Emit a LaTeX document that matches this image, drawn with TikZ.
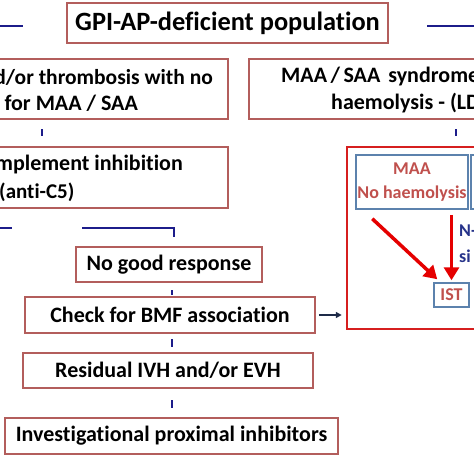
\documentclass[tikz,border=0pt]{standalone}
\usepackage{fontspec}
\setmainfont[Ligatures=NoCommon]{Carlito}
\usetikzlibrary{arrows.meta}
\definecolor{boxred}{HTML}{B35E5C}
\definecolor{navyline}{HTML}{1C1C8A}
\definecolor{brightred}{HTML}{D61F1F}
\definecolor{steel}{HTML}{5C82AD}
\definecolor{maared}{HTML}{C0504D}
\definecolor{ndark}{HTML}{26338A}
\definecolor{arrowdark}{HTML}{1E2B48}
\tikzset{
  mainbox/.style={draw=boxred, line width=1.5pt, fill=white, inner sep=0pt,
    font=\bfseries\fontsize{22}{26}\selectfont},
  bigtext/.style={inner sep=0pt, font=\bfseries\fontsize{22}{26}\selectfont},
  tickline/.style={draw=navyline, line width=2pt},
  redframe/.style={draw=brightred, line width=2.5pt},
  steelbox/.style={draw=steel, line width=1.5pt, fill=white, inner sep=0pt,
    text=maared, font=\bfseries\fontsize{18}{24}\selectfont, align=center},
  redarrow/.style={draw=red!90!black, line width=3.5pt,
    -{Triangle[length=13pt,width=15pt]}},
  smalltext/.style={inner sep=0pt, text=ndark, font=\bfseries\fontsize{18}{20}\selectfont}
}
\begin{document}
\begin{tikzpicture}[x=1pt,y=-1pt]
\useasboundingbox[fill=white] (0,0) rectangle (474,474);

% top
\node[mainbox, minimum width=321pt, minimum height=40pt, font=\bfseries\fontsize{26.4}{30}\selectfont] (top) at (227.5,23) {GPI-AP-deficient population};
\draw[tickline] (0,26) coordinate (tl1) -- (23,26) coordinate (tl2);
\draw[tickline] (427,26) coordinate (tr1) -- (474,26) coordinate (tr2);

% row 2
\node[mainbox, minimum width=448pt, minimum height=60pt] (l2) at (4,89) {};
\node[bigtext, anchor=east, font=\bfseries\fontsize{21.5}{26}\selectfont] (l2a) at (213,77) {and/or thrombosis with no};
\node[bigtext, anchor=east] (l2b) at (138,103) {indication for MAA / SAA};
\node[mainbox, minimum width=271pt, minimum height=60pt] (r2) at (384.5,89) {};
\node[bigtext, anchor=west] (r2a) at (281,77) {MAA\hspace{3.5pt}/\hspace{3.5pt}SAA\hspace{8pt}syndrome};
\node[bigtext, anchor=west] (r2b) at (331,103) {haemolysis - (LDH};

\draw[tickline] (42,129) -- (42,136);
\draw[tickline] (456,129) -- (456,136);

% row 3 left
\node[mainbox, minimum width=428pt, minimum height=61pt] (l3) at (14,177.5) {};
\node[bigtext, anchor=east] (l3a) at (183,165) {Terminal complement inhibition};
\node[bigtext, anchor=west, font=\bfseries\fontsize{21}{26}\selectfont] (l3b) at (-1,192) {(anti-C5)};

\draw[tickline] (0,228) -- (12,228);
\draw[tickline] (82,228) -- (174,228) -- (174,237);

% left column
\node[mainbox, minimum width=186pt, minimum height=35pt] (ngr) at (169,264.5) {No good response};
\node[mainbox, minimum width=290pt, minimum height=36pt] (bmf) at (170,315) {Check for BMF association};
\node[mainbox, minimum width=290pt, minimum height=35pt] (res) at (168,370.5) {Residual IVH and/or EVH};
\node[mainbox, minimum width=333pt, minimum height=36pt] (inv) at (171.5,436) {Investigational proximal inhibitors};

\draw[tickline] (172,290) -- (172,295);
\draw[tickline] (172,339) -- (172,347);
\draw[tickline] (172,400) -- (172,408);

% red frame
\node[redframe, minimum width=173pt, minimum height=182pt, inner sep=0pt] (frame) at (433.5,238) {};
\node[steelbox, minimum width=112pt, minimum height=54pt] (maa) at (412,182) {MAA\\No haemolysis};
\node[steelbox, minimum width=60pt, minimum height=54pt] (maa2) at (501,182) {};
\node[steelbox, minimum width=35pt, minimum height=24pt] (ist) at (451.5,295) {IST};
\node[smalltext, anchor=west] (nlab) at (459,231) {N-};
\node[smalltext, anchor=west] (slab) at (459,256) {si};

\draw[redarrow] ([shift={(17,9)}]maa.south west) -- ([shift={(4,-3)}]ist.north west);
\draw[redarrow, shorten <=5pt, shorten >=2pt] (ist.north |- maa.south) -- (ist.north);

\draw[draw=arrowdark, line width=1.5pt, -{Triangle[length=6pt,width=6pt]}, shorten <=3pt, shorten >=4pt]
  (bmf.east) -- (bmf.east -| frame.west);
\end{tikzpicture}
\end{document}
